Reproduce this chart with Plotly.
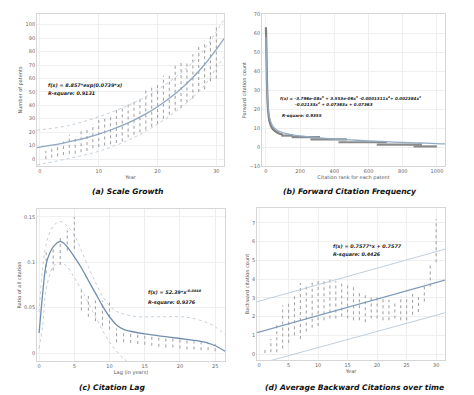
import plotly.graph_objects as go

# ---------------- data ----------------
# (a) Scale Growth
a_year = list(range(1, 31))
a_low = [0, 1, 2, 3, 4, 4, 5, 6, 8, 9, 10, 11, 12, 13, 16, 18, 20, 22, 24, 26,
         30, 33, 36, 38, 42, 45, 50, 52, 58, 60]
a_high = [6, 9, 11, 13, 18, 17, 22, 22, 26, 29, 30, 32, 38, 40, 42, 45, 45, 52, 53, 57,
          62, 63, 70, 72, 72, 78, 85, 88, 93, 100]
a_fit_x = [-0.5, 0, 2, 4, 6, 8, 10, 12, 14, 16, 18, 20, 22, 24, 26, 28, 30, 31.3]
a_fit_y = [8.5, 8.86, 10.3, 11.9, 13.8, 16.0, 18.6, 21.6, 25.0, 29.0, 33.6, 38.9,
           45.2, 52.4, 60.7, 70.4, 81.7, 89.7]
a_band_x = [-0.5, 0, 5, 10, 15, 20, 25, 28, 30, 31.3]
a_up = [21.5, 21.7, 25, 31.5, 40, 51.5, 68, 82, 95, 104]
a_lo = [-4.5, -4, 0.5, 5.8, 14, 26, 42, 55, 68, 76]

# (b) Forward Citation Frequency
b_head_rank = [0, 2, 4, 6, 8, 10, 15, 20, 30, 40, 60, 80, 100]
b_head_count = [63, 55, 45, 35, 28, 23, 17, 14, 11, 9.5, 8, 7, 6.5]
b_step_start = [90, 150, 260, 424, 648, 863]
b_step_end = [160, 316, 473, 707, 912, 1000]
b_step_count = [6, 5.2, 4, 2.5, 1.2, 0.3]
b_fit_rank = [0, 3, 6, 10, 20, 40, 70, 100, 150, 200, 300, 400, 500, 600, 700, 800,
              900, 1000, 1047]
b_fit_count = [58, 45, 33, 25, 16, 11, 8.5, 7.5, 6.5, 5.8, 4.9, 4.2, 3.7, 3.2, 2.8,
               2.4, 2.1, 1.8, 1.6]

# (c) Citation Lag
c_lag = list(range(1, 26))
c_low = [0.088, 0.091, 0.097, 0.113, 0.115, 0.047, 0.040, 0.035, 0.030, 0.026,
         0.012, 0.012, 0.011, 0.010, 0.009, 0.008, 0.007, 0.006, 0.006, 0.005,
         0.004, 0.004, 0.003, 0.003, 0.002]
c_high = [0.113, 0.118, 0.127, 0.135, 0.150, 0.073, 0.063, 0.058, 0.058, 0.058,
          0.027, 0.025, 0.023, 0.022, 0.022, 0.020, 0.019, 0.017, 0.016, 0.016,
          0.014, 0.013, 0.012, 0.011, 0.010]
c_fit_x = [0, 0.5, 1, 1.5, 2, 2.5, 3, 3.5, 4, 5, 6, 7, 8, 9, 10, 11, 12, 13, 15, 17,
           20, 22, 24, 25, 26.4]
c_fit_y = [0.022, 0.065, 0.098, 0.110, 0.117, 0.121, 0.123, 0.121, 0.117, 0.106,
           0.094, 0.080, 0.066, 0.052, 0.040, 0.031, 0.026, 0.024, 0.021, 0.019,
           0.016, 0.014, 0.011, 0.008, 0.002]
c_up_x = [0, 1, 2, 3, 4, 5, 6, 7, 8, 9, 10, 11, 12, 14, 16, 18, 20, 22, 24, 25, 26.4]
c_up_y = [0.045, 0.120, 0.140, 0.145, 0.140, 0.130, 0.113, 0.095, 0.078, 0.063,
          0.052, 0.046, 0.043, 0.040, 0.040, 0.040, 0.040, 0.038, 0.033, 0.029, 0.020]
c_lo_x = [0, 0.5, 1, 2, 3, 4, 5, 6, 7, 8, 9, 10, 11, 12, 13]
c_lo_y = [0.005, 0.030, 0.070, 0.095, 0.100, 0.095, 0.083, 0.070, 0.055, 0.040,
          0.025, 0.012, 0.002, -0.006, -0.012]

# (d) Average Backward Citations over time
d_year = list(range(1, 31))
d_low = [0.05, 0.1, 0.1, 0.3, 0.6, 1.0, 0.8, 1.2, 1.4, 1.5, 1.8, 1.9, 1.9, 2.0, 1.9,
         1.8, 1.8, 1.7, 1.9, 1.9, 1.8, 1.8, 1.9, 1.8, 1.8, 2.1, 2.25, 2.8, 3.6, 4.9]
d_high = [0.3, 0.8, 1.7, 2.6, 2.8, 3.1, 3.8, 3.6, 3.9, 4.0, 3.9, 4.0, 3.9, 3.8, 3.8,
          3.7, 3.4, 3.3, 3.1, 3.1, 3.0, 2.9, 2.8, 3.1, 3.1, 3.2, 3.2, 3.8, 4.75, 7.2]
d_line_x = [-0.35, 31.5]
d_fit_y = [1.14, 3.95]
d_up_y = [2.79, 5.6]
d_lo_y = [-0.55, 2.2]

# ---------------- helpers ----------------
W, H = 474, 395
PTS = '#a6a6a6'
FIT = '#8ea6bf'
BAND = '#b4c4d4'
TXT = '#222222'


def columns(xs, lo, hi):
    X, Y = [], []
    for x, l, h in zip(xs, lo, hi):
        X += [x, x, None]
        Y += [l, h, None]
    return X, Y


fig = go.Figure()


def add_cols(xs, lo, hi, xa, ya):
    X, Y = columns(xs, lo, hi)
    fig.add_trace(go.Scatter(x=X, y=Y, mode='lines', xaxis=xa, yaxis=ya,
                             line=dict(color=PTS, width=1.1, dash='dot'),
                             hoverinfo='skip'))


def add_line(xs, ys, xa, ya, color=FIT, width=1.2, dash='solid', shape='spline'):
    fig.add_trace(go.Scatter(x=xs, y=ys, mode='lines', xaxis=xa, yaxis=ya,
                             line=dict(color=color, width=width, dash=dash, shape=shape),
                             hoverinfo='skip'))


# (a)
add_cols(a_year, a_low, a_high, 'x', 'y')
add_line(a_band_x, a_up, 'x', 'y', BAND, 0.8, 'dot')
add_line(a_band_x, a_lo, 'x', 'y', BAND, 0.8, 'dot')
add_line(a_fit_x, a_fit_y, 'x', 'y', FIT, 1.3)

# (b)
add_line(b_head_rank, b_head_count, 'x2', 'y2', '#7f7f7f', 2.2)
SX, SY = [], []
for s, e, c in zip(b_step_start, b_step_end, b_step_count):
    SX += [s, e, None]
    SY += [c, c, None]
fig.add_trace(go.Scatter(x=SX, y=SY, mode='lines', xaxis='x2', yaxis='y2',
                         line=dict(color='#8a8a8a', width=2.2), hoverinfo='skip'))
add_line(b_fit_rank, b_fit_count, 'x2', 'y2', '#93abc4', 1.3)

# (c)
add_cols(c_lag, c_low, c_high, 'x3', 'y3')
add_line(c_up_x, c_up_y, 'x3', 'y3', BAND, 0.8, 'dot')
add_line(c_lo_x, c_lo_y, 'x3', 'y3', BAND, 0.8, 'dot')
add_line(c_fit_x, c_fit_y, 'x3', 'y3', '#6f8eae', 1.3)

# (d)
add_cols(d_year, d_low, d_high, 'x4', 'y4')
add_line(d_line_x, d_up_y, 'x4', 'y4', '#b9c8d7', 0.9, 'solid', 'linear')
add_line(d_line_x, d_lo_y, 'x4', 'y4', '#b9c8d7', 0.9, 'solid', 'linear')
add_line(d_line_x, d_fit_y, 'x4', 'y4', '#7f9bb8', 1.2, 'solid', 'linear')

TF = dict(family='DejaVu Sans', size=5, color='#666666')


def ax(domain, rng, dtick, title, anchor, tick0=0):
    return dict(domain=domain, range=rng, dtick=dtick, tick0=tick0, anchor=anchor,
                showgrid=True, gridcolor='#efefef', gridwidth=0.6,
                zeroline=False, showline=True, linecolor='#d6d6d6', linewidth=0.8,
                mirror=True, ticks='', tickfont=TF, automargin=False,
                title=dict(text=title, font=dict(family='DejaVu Sans', size=5, color='#555555'),
                           standoff=2))


def fx(a, b):
    return [a / W, b / W]


def fy(top, bot):
    return [1 - bot / H, 1 - top / H]


fig.update_layout(
    width=W, height=H, margin=dict(l=0, r=0, t=0, b=0, pad=0),
    paper_bgcolor='white', plot_bgcolor='white', showlegend=False,
    xaxis=ax(fx(37, 224), [-0.5, 31.3], 10, 'Year', 'y'),
    yaxis=ax(fy(14, 166), [-5.2, 108], 10, 'Number of patents', 'x'),
    xaxis2=ax(fx(262, 445), [-23, 1047], 200, 'Citation rank for each patent', 'y2'),
    yaxis2=ax(fy(14, 166), [-10, 70], 10, 'Forward citation count', 'x2'),
    xaxis3=ax(fx(37, 225), [-0.3, 26.4], 5, 'Lag (in years)', 'y3'),
    yaxis3=ax(fy(209, 361), [-0.0088, 0.1588], 0.05, 'Ratio of all citation', 'x3'),
    xaxis4=ax(fx(257, 445), [-0.35, 31.5], 5, 'Year', 'y4'),
    yaxis4=ax(fy(208, 360), [-0.32, 7.8], 1, 'Backward citation count', 'x4'),
)

EQ = dict(family='DejaVu Sans', size=4.9, color=TXT)
EQB = dict(family='DejaVu Sans', size=4.1, color=TXT)


def note(x, y, text, xanchor='left', font=EQ):
    fig.add_annotation(x=x / W, y=1 - y / H, xref='paper', yref='paper', text=text,
                       showarrow=False, xanchor=xanchor, yanchor='middle', font=font,
                       borderpad=0)


note(47, 85, '<b><i>f(x) = 8.857*exp(0.0739*x)</i></b>')
note(47, 93, '<b><i>R-square: 0.9131</i></b>')
note(279, 98, '<b><i>f(x) = -3.796e-08x<sup>6</sup> + 3.553e-06x<sup>5</sup> -0.0001311x<sup>4</sup>+ 0.002384x<sup>3</sup></i></b>', font=EQB)
note(294, 104, '<b><i>-0.02133x<sup>2</sup> + 0.07363x + 0.07363</i></b>', font=EQB)
note(281, 115, '<b><i>R-square: 0.9355</i></b>', font=EQB)
note(147, 292, '<b><i>f(x) = 52.39*x<sup>-0.0848</sup></i></b>')
note(147, 302, '<b><i>R-square: 0.9376</i></b>')
note(332, 246, '<b><i>f(x) = 0.7577*x + 0.7577</i></b>')
note(332, 254, '<b><i>R-square: 0.4426</i></b>')

TT = dict(family='DejaVu Sans', size=7.6, color='#111111')
note(127, 192, '<b><i>(a) Scale Growth</i></b>', 'center', TT)
note(350, 192, '<b><i>(b) Forward Citation Frequency</i></b>', 'center', TT)
note(112, 387, '<b><i>(c) Citation Lag</i></b>', 'center', TT)
note(354, 387, '<b><i>(d) Average Backward Citations over time</i></b>', 'center', TT)

fig.write_html('out.html', config={'displayModeBar': False},
               post_script="document.body.style.margin='0';document.body.style.padding='0';")
